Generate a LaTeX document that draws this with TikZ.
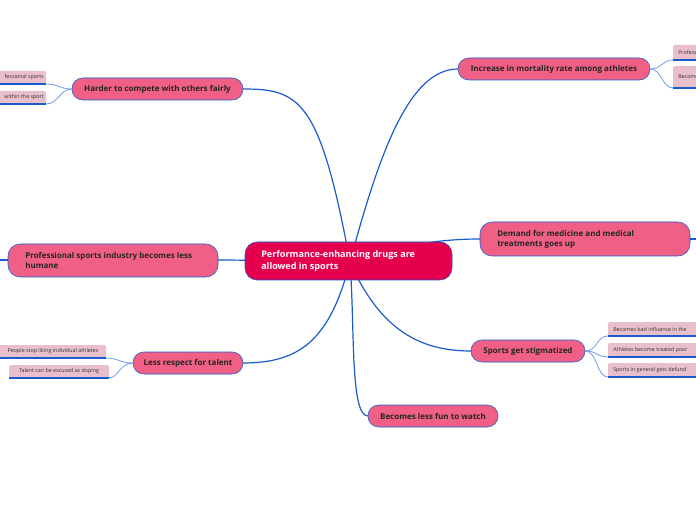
\documentclass[tikz,border=0pt]{standalone}
\usepackage{fontspec}
\setmainfont{Open Sans}
\definecolor{cen}{HTML}{E5004F}
\definecolor{mainc}{HTML}{EF5F86}
\definecolor{subc}{HTML}{E8BFCB}
\definecolor{ln}{HTML}{1A5BD0}
\definecolor{lnl}{HTML}{6F9DE6}
\begin{document}
\begin{tikzpicture}[x=0.75pt,y=-0.75pt,
  mainb/.style={text=black!85,font=\fontsize{6}{7.5}\selectfont\bfseries,align=left,inner sep=0pt},
  subb/.style={text=black!80,font=\fontsize{4}{5}\selectfont,inner sep=0pt},
  conn/.style={draw=ln,line width=0.9pt},
  sconn/.style={draw=lnl,line width=0.6pt},
  uline/.style={draw=ln,line width=1pt}]
\useasboundingbox (0,0) rectangle (696,520);
\clip (0,0) rectangle (696,520);
\fill[white] (0,0) rectangle (696,520);
% connectors from centre
\coordinate (c) at (350,262);
\draw[conn] (c) .. controls (380,150) and (410,69) .. (458,69);
\draw[conn] (c) .. controls (400,245) and (440,239) .. (480,239);
\draw[conn] (c) .. controls (380,330) and (420,351) .. (471,351);
\draw[conn] (c) .. controls (355,330) and (350,416) .. (368,416);
\draw[conn] (c) .. controls (320,100) and (300,89) .. (243,89);
\draw[conn] (c) .. controls (300,262) and (260,260) .. (218,260);
\draw[conn] (c) .. controls (330,340) and (300,363) .. (243,363);
% center
\filldraw[draw=ln,fill=cen,rounded corners=9pt] (245,242) rectangle (452,280);
\node[text=white,font=\fontsize{6.8}{8.5}\selectfont\bfseries,align=left,anchor=west,inner sep=0pt] (ctrt) at (261,261) {Performance-enhancing drugs are\\allowed in sports};
% main nodes
\filldraw[draw=ln,fill=mainc,rounded corners=8pt] (458,58) rectangle (650,80);
\node[mainb] (m1) at (554,69) {Increase in mortality rate among athletes};
\filldraw[draw=ln,fill=mainc,rounded corners=9pt] (480,222) rectangle (690,256);
\node[mainb,anchor=west] (m2) at (497,239) {Demand for medicine and medical\\treatments goes up};
\filldraw[draw=ln,fill=mainc,rounded corners=8pt] (471,340) rectangle (585,362);
\node[mainb] (m3) at (528,351) {Sports get stigmatized};
\filldraw[draw=ln,fill=mainc,rounded corners=8pt] (368,405) rectangle (498,427);
\node[mainb] (m4) at (433,416) {Becomes less fun to watch};
\filldraw[draw=ln,fill=mainc,rounded corners=8pt] (72,78) rectangle (243,100);
\node[mainb] (m5) at (157.5,89) {Harder to compete with others fairly};
\filldraw[draw=ln,fill=mainc,rounded corners=9pt] (8,244) rectangle (218,277);
\node[mainb,anchor=west] (m6) at (25,260) {Professional sports industry becomes less\\humane};
\filldraw[draw=ln,fill=mainc,rounded corners=8pt] (133,352) rectangle (243,374);
\node[mainb] (m7) at (188,363) {Less respect for talent};
% extra connectors to edges
\draw[conn] (690,239) -- (696,239);
\draw[conn] (8,260) -- (0,260);
% subs
\newcommand\subbox[4]{\fill[subc,rounded corners=1.5pt] (#1,#2) rectangle (#3,#4); \draw[uline] (#1,#4) -- (#3,#4);}
\subbox{-5}{71}{46}{84}
\node[subb,anchor=east] (h1) at (44,77.5) {fessional sports};
\subbox{-5}{91}{46}{104}
\node[subb,anchor=east] (h2) at (44,97.5) {within the sport};
\draw[sconn] (72,89) .. controls (60,89) and (58,84) .. (46,84);
\draw[sconn] (72,89) .. controls (60,89) and (58,104) .. (46,104);
\subbox{673}{45}{710}{60}
\node[subb,anchor=west] (r1) at (678,52.5) {Professional};
\subbox{673}{66}{710}{88}
\node[subb,anchor=west] (r2) at (678,77) {Becomes};
\draw[sconn] (650,69) .. controls (662,69) and (662,60) .. (673,60);
\draw[sconn] (650,69) .. controls (662,69) and (662,88) .. (673,88);
\subbox{608}{322}{710}{336}
\node[subb,anchor=west] (s1) at (613,329) {Becomes bad influence in the};
\subbox{608}{343}{710}{357}
\node[subb,anchor=west] (s2) at (613,350) {Athletes become treated poor};
\subbox{608}{363}{710}{377}
\node[subb,anchor=west] (s3) at (613,370) {Sports in general gets defund};
\draw[sconn] (585,351) .. controls (598,351) and (596,336) .. (608,336);
\draw[sconn] (585,351) .. controls (598,351) and (596,357) .. (608,357);
\draw[sconn] (585,351) .. controls (598,351) and (596,377) .. (608,377);
\subbox{-5}{345}{106}{358}
\node[subb] (l1) at (53,351.5) {People stop liking individual athletes};
\subbox{9}{365}{109}{378}
\node[subb] (l2) at (59,371.5) {Talent can be excused as doping};
\draw[sconn] (133,363) .. controls (120,363) and (118,358) .. (106,358);
\draw[sconn] (133,363) .. controls (120,363) and (118,378) .. (109,378);
\end{tikzpicture}
\end{document}
